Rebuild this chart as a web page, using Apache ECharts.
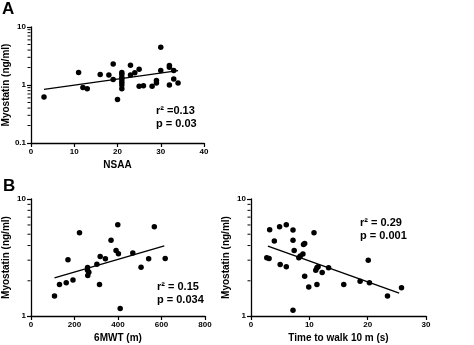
<!DOCTYPE html>
<html><head><meta charset="utf-8">
<script src="https://cdn.jsdelivr.net/npm/echarts@6/dist/echarts.min.js"></script>
<style>html,body{margin:0;padding:0;background:#fff}#c{width:474px;height:345px}</style>
</head><body><div id="c"></div>
<script>
// Panel A: NSAA vs Myostatin
const nsaaX = [3,11,12,13,16,18,19,19,20,21,21,21,21,21,21,21,23,23,24,25,25,26,28,29,29,30,30,32,32,32,33,33,34];
const nsaaY = [0.62,1.65,0.91,0.86,1.51,1.49,2.31,1.25,0.56,1.65,1.51,1.35,1.24,1.11,1.0,0.86,2.18,1.49,1.63,1.86,0.95,0.97,0.95,1.08,1.19,4.47,1.77,2.16,2.02,1.0,1.77,1.27,1.08];
const nsaaFitX = [3,34];
const nsaaFitY = [0.84,1.77];
// Panel B left: 6MWT vs Myostatin
const mwtX = [108,131,162,170,193,223,260,260,266,261,303,315,318,342,368,391,402,399,410,468,506,541,567,617];
const mwtY = [1.48,1.86,1.92,3.02,2.03,5.14,2.6,2.46,2.37,2.22,2.77,1.86,3.23,3.08,4.43,3.63,3.4,6.03,1.16,3.45,2.61,3.08,5.79,3.1];
const mwtFitX = [108,613];
const mwtFitY = [2.12,3.98];
// Panel B right: Time to walk 10 m vs Myostatin
const walkX = [2.7,3.1,3.2,4.0,4.9,5.0,6.05,6.05,7.2,7.2,7.4,7.2,8.2,8.45,8.9,9.0,9.2,9.2,9.9,10.8,11.1,11.3,11.5,11.3,12.2,13.3,15.9,18.7,20.1,20.3,23.4,25.8];
const walkY = [3.14,3.1,5.46,4.37,5.79,2.76,6.03,2.63,5.43,4.43,3.63,1.12,3.14,3.25,3.38,4.09,4.17,2.19,1.77,5.14,2.46,2.58,2.63,1.86,2.35,2.58,1.86,1.98,3.0,1.92,1.48,1.74];
const walkFitX = [2.9,25.4];
const walkFitY = [3.96,1.57];

const xTicks = [{min:0,max:40,interval:10,name:'NSAA'},{min:0,max:800,interval:200,name:'6MWT (m)'},{min:0,max:30,interval:10,name:'Time to walk 10 m (s)'}];
const yRanges = [{min:0.1,max:10},{min:1,max:10},{min:1,max:10}];
const minorTicksA = [0.2,0.3,0.4,0.5,0.6,0.7,0.8,0.9,2,3,4,5,6,7,8,9];
const minorTicksB = [2,3,4,5,6,7,8,9];
const yName = 'Myostatin (ng/ml)';
const annotations = [['r\u00b2 =0.13','p = 0.03'],['r\u00b2 = 0.15','p = 0.034'],['r\u00b2 = 0.29','p = 0.001']];
const panelLetters = ['A','B'];

const FONT = '"Liberation Sans", Arial, sans-serif';
const ink = '#000';
const zip = (a,b) => a.map((v,i)=>[v,b[i]]);
const minorSets = [minorTicksA, minorTicksB, minorTicksB];

const grids = [
  {left:31, top:27, width:173, height:116},
  {left:31, top:199, width:174, height:117},
  {left:251, top:199, width:175, height:117}
];

const xAxes = xTicks.map((t,i)=>({
  type:'value', gridIndex:i, min:t.min, max:t.max, interval:t.interval,
  name:t.name, nameLocation:'middle', nameGap:17,
  nameTextStyle:{fontFamily:FONT, fontWeight:'bold', fontSize:10, color:ink},
  axisLine:{show:true, onZero:false, lineStyle:{color:ink, width:1.3}},
  axisTick:{show:true, inside:false, length:4, lineStyle:{color:ink, width:1.2}},
  splitLine:{show:false},
  axisLabel:{fontFamily:FONT, fontWeight:'bold', fontSize:8, color:ink, margin:5}
}));
const yAxes = yRanges.map((r,i)=>({
  type:'log', logBase:10, gridIndex:i, min:r.min, max:r.max,
  name:yName, nameLocation:'middle', nameGap:20, nameRotate:90,
  nameTextStyle:{fontFamily:FONT, fontWeight:'bold', fontSize:10, color:ink},
  axisLine:{show:true, onZero:false, lineStyle:{color:ink, width:1.3}},
  axisTick:{show:true, inside:false, length:4, lineStyle:{color:ink, width:1.2}},
  splitLine:{show:false},
  axisLabel:{fontFamily:FONT, fontWeight:'bold', fontSize:8, color:ink, margin:5}
}));

const sets = [[nsaaX,nsaaY,nsaaFitX,nsaaFitY],[mwtX,mwtY,mwtFitX,mwtFitY],[walkX,walkY,walkFitX,walkFitY]];
const series = [];
sets.forEach((s,i)=>{
  // log minor ticks on the y axis, placed through the axis scale
  series.push({type:'scatter', xAxisIndex:i, yAxisIndex:i, data:minorSets[i].map(v=>[xTicks[i].min, v]),
    symbol:'rect', symbolSize:[3,1], symbolOffset:[-2,0], itemStyle:{color:ink, opacity:1},
    silent:true, clip:false, animation:false, z:4});
  series.push({type:'line', xAxisIndex:i, yAxisIndex:i, data:zip(s[2],s[3]), showSymbol:false, symbol:'none',
    lineStyle:{color:ink, width:1.4}, silent:true, animation:false, z:2});
  series.push({type:'scatter', xAxisIndex:i, yAxisIndex:i, data:zip(s[0],s[1]), symbol:'circle', symbolSize:5.5,
    itemStyle:{color:ink, opacity:1}, animation:false, z:3});
});

const annPos = [[156,105],[157,281],[360,217]];
const graphic = annotations.map((a,i)=>({
  type:'text', left:annPos[i][0], top:annPos[i][1],
  style:{text:a.join('\n'), fontFamily:FONT, fontWeight:'bold', fontSize:11, lineHeight:12.5, fill:ink}
}));
graphic.push({type:'text', left:2, top:1, style:{text:panelLetters[0], fontFamily:FONT, fontWeight:'bold', fontSize:17, fill:ink}});
graphic.push({type:'text', left:3, top:178, style:{text:panelLetters[1], fontFamily:FONT, fontWeight:'bold', fontSize:17, fill:ink}});

const chart = echarts.init(document.getElementById('c'), null, {renderer:'canvas'});
chart.setOption({
  backgroundColor:'#fff', animation:false,
  grid:grids, xAxis:xAxes, yAxis:yAxes, series:series, graphic:graphic
});
</script>
</body></html>
